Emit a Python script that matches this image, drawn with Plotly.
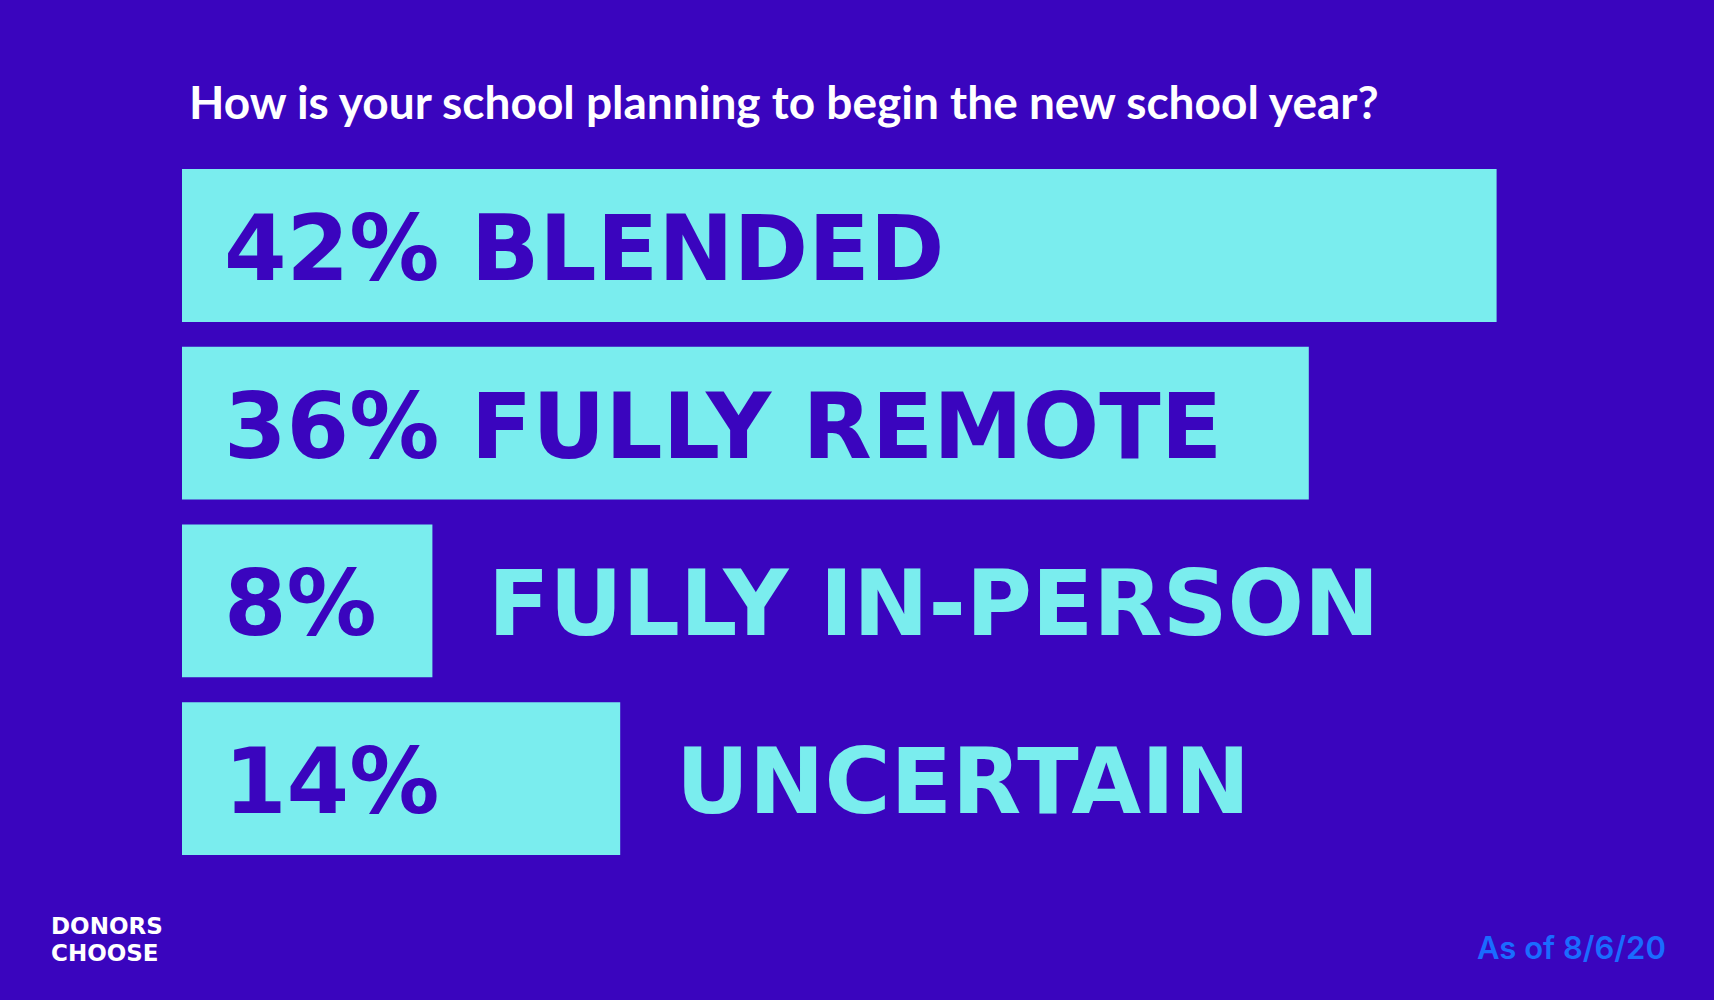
"""
School reopening plans - horizontal bars with big labels
"""

import plotly.graph_objects as go

# data
categories = ['BLENDED', 'FULLY REMOTE', 'FULLY IN-PERSON', 'UNCERTAIN']
percents = [42, 36, 8, 14]
label_inside = [True, True, False, False]

title_text = 'How is your school planning to begin the new school year?'
date_note = 'As of 8/6/20'
logo_lines = ['DONORS', 'CHOOSE']

BG = '#3a05be'
CYAN = '#7aedee'
NOTE_BLUE = '#1a6cff'
HEAVY = 'DejaVu Sans'

fig = go.Figure()

fig.add_trace(go.Bar(
    x=percents,
    y=categories,
    orientation='h',
    marker=dict(color=CYAN, line=dict(width=0)),
    width=0.86,
    hoverinfo='skip',
    showlegend=False,
))

big_font = dict(family=HEAVY, size=90, weight=700)

# big labels - percent always sits in the bar, the category name only if it fits
for cat, pct, inside in zip(categories, percents, label_inside):
    txt = f'{pct}% {cat}' if inside else f'{pct}%'
    fig.add_annotation(
        x=0, y=cat, xref='x', yref='y',
        text=txt,
        xanchor='left', yanchor='middle', xshift=40, yshift=-3,
        showarrow=False,
        font=dict(big_font, color=BG),
    )
    if not inside:
        fig.add_annotation(
            x=pct, y=cat, xref='x', yref='y',
            text=cat,
            xanchor='left', yanchor='middle', xshift=54, yshift=-3,
            showarrow=False,
            font=dict(big_font, color=CYAN),
        )

# title
fig.add_annotation(
    x=187 / 1714, y=1 - 72 / 1000, xref='paper', yref='paper',
    text=title_text, xanchor='left', yanchor='top', showarrow=False,
    font=dict(family='Lato', size=46, color='white', weight=700),
)

# logo text, bottom left - two annotations, spaced so their boxes don't collide
for i, line in enumerate(logo_lines):
    fig.add_annotation(
        x=50 / 1714, y=1 - (926 + i * 27) / 1000, xref='paper', yref='paper',
        text=line, xanchor='left', yanchor='middle', showarrow=False,
        borderpad=0,
        font=dict(family=HEAVY, size=23, color='white', weight=700),
    )

# date note, bottom right
fig.add_annotation(
    x=1668 / 1714, y=1 - 947 / 1000, xref='paper', yref='paper',
    text=date_note, xanchor='right', yanchor='middle', showarrow=False,
    font=dict(family='Inter', size=31, color=NOTE_BLUE, weight=600),
)

# NOTE: margins are zero so the axis ranges map straight onto the page pixels
# x: zero at px 182, ~31.3 px per percent
# y: first bar centred at px 245.5, ~177.7 px between bars
fig.update_layout(
    width=1714,
    height=1000,
    margin=dict(l=0, r=0, t=0, b=0),
    paper_bgcolor=BG,
    plot_bgcolor=BG,
    xaxis=dict(
        range=[-182 / 31.3, (1714 - 182) / 31.3],
        visible=False,
        fixedrange=True,
    ),
    yaxis=dict(
        range=[(1000 - 245.5) / 177.7, -245.5 / 177.7],
        visible=False,
        fixedrange=True,
    ),
)

# page body has a default 8px margin - drop it so the figure fills the window
fig.write_html(
    'out.html',
    config=dict(displayModeBar=False),
    post_script="document.body.style.margin='0';document.body.style.background='%s';" % BG,
)
